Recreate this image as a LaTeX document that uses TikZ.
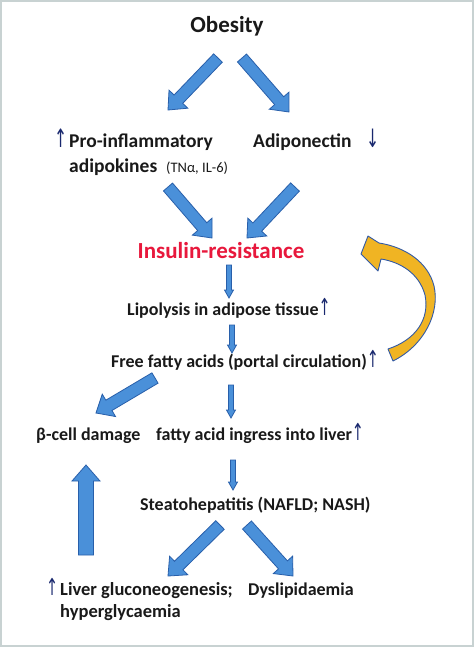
\documentclass[tikz,border=0pt]{standalone}
\usepackage{fontspec}
\setmainfont{Carlito}
\newfontfamily\arrowfont{DejaVu Sans}
\usetikzlibrary{calc}
\definecolor{bfill}{RGB}{74,144,217}
\definecolor{bline}{RGB}{40,95,170}
\definecolor{navy}{RGB}{25,40,110}
\definecolor{ired}{RGB}{232,24,60}
\definecolor{gold}{RGB}{240,180,35}
\definecolor{goldline}{RGB}{50,90,165}
\definecolor{txt}{RGB}{25,25,25}
\definecolor{framec}{RGB}{200,210,210}
\newcommand\uparr{{\color{navy}\arrowfont\mdseries\scalebox{0.8}[1.3]{↑}}}
\newcommand\dnarr{{\color{navy}\arrowfont\mdseries\scalebox{0.8}[1.3]{↓}}}
\newcommand\blockarrow[5]{%
  \coordinate (bb) at ($(#2)!#5!(#1)$);
  \filldraw[blk] ($(#1)!#3!90:(#2)$) -- ($(bb)!#3!90:(#2)$) -- ($(bb)!#4!90:(#2)$) -- (#2)
    -- ($(bb)!#4!-90:(#2)$) -- ($(bb)!#3!-90:(#2)$) -- ($(#1)!#3!-90:(#2)$) -- cycle;}
\tikzset{
  blk/.style={fill=bfill, draw=bline, line width=0.8pt, line join=miter},
  lbl/.style={inner sep=0pt, anchor=base west, text=txt, font=\fontsize{18}{20}\selectfont\bfseries},
  lblb/.style={lbl, font=\fontsize{19.5}{22}\selectfont\bfseries},
}
\begin{document}
\begin{tikzpicture}[x=1pt,y=1pt]
\useasboundingbox (0,0) rectangle (474,-647);
\fill[white] (0,0) rectangle (474,-647);
\draw[framec, line width=1.6pt] (0.8,-0.8) rectangle (473.2,-646.2);

% texts
\node[lbl, anchor=base, font=\fontsize{23}{26}\selectfont\bfseries] (obesity) at (227,-33) {Obesity};
\node[lblb, anchor=base east] (upa) at (67.5,-148) {\uparr};
\node[lblb] (proinf) at (69,-148) {Pro-inflammatory};
\node[lblb] (adipok) at (69,-172) {adipokines};
\node[lbl, font=\fontsize{14.5}{16}\selectfont] (tnf) at (166,-172) {(TNα, IL-6)};
\node[lblb] (adipon) at (253,-148) {Adiponectin};
\node[lblb] (dna) at (366,-148) {\dnarr};
\node[lbl, anchor=base, text=ired, font=\fontsize{23}{26}\selectfont\bfseries] (insulin) at (221,-258) {Insulin-resistance};
\node[lbl] (lipo) at (127,-315) {Lipolysis in adipose tissue\uparr};
\node[lbl] (ffa) at (111,-367) {Free fatty acids (portal circulation)\uparr};
\node[lbl] (beta) at (36,-440) {β-cell damage};
\node[lbl] (ingress) at (156,-440) {fatty acid ingress into liver\uparr};
\node[lbl] (steato) at (140,-510) {Steatohepatitis (NAFLD; NASH)};
\node[lbl, anchor=base east] (upb) at (58.5,-595) {\uparr};
\node[lbl, font=\fontsize{18.5}{20}\selectfont\bfseries] (liver) at (60,-595) {Liver gluconeogenesis;};
\node[lbl, font=\fontsize{18.5}{20}\selectfont\bfseries] (hyper) at (60,-617) {hyperglycaemia};
\node[lbl] (dys) at (248,-595) {Dyslipidaemia};

% arrow end points
\coordinate (a1t) at (218,-58);  \coordinate (a1h) at (168,-110);
\coordinate (a2t) at (242,-58);  \coordinate (a2h) at (289,-112);
\coordinate (a3t) at (168,-187); \coordinate (a3h) at (212,-238);
\coordinate (a4t) at (295,-187); \coordinate (a4h) at (247,-238);
\coordinate (a5t) at (229,-265); \coordinate (a5h) at (229,-298);
\coordinate (a6t) at (232,-325); \coordinate (a6h) at (232,-353);
\coordinate (a7t) at (155,-378); \coordinate (a7h) at (96,-413);
\coordinate (a8t) at (231,-385); \coordinate (a8h) at (231,-418);
\coordinate (a9t) at (233,-460); \coordinate (a9h) at (233,-490);
\coordinate (a10t) at (86,-555); \coordinate (a10h) at (86,-465);
\coordinate (a11t) at (220,-525); \coordinate (a11h) at (168,-576);
\coordinate (a12t) at (247,-525); \coordinate (a12h) at (293,-576);

\blockarrow{a1t}{a1h}{6pt}{13pt}{15pt}
\blockarrow{a2t}{a2h}{6pt}{13pt}{15pt}
\blockarrow{a3t}{a3h}{6pt}{13pt}{15pt}
\blockarrow{a4t}{a4h}{6pt}{13pt}{15pt}
\blockarrow{a5t}{a5h}{2.5pt}{4.5pt}{8pt}
\blockarrow{a6t}{a6h}{2.5pt}{4.5pt}{8pt}
\blockarrow{a7t}{a7h}{6pt}{13pt}{15pt}
\blockarrow{a8t}{a8h}{2.5pt}{4.5pt}{8pt}
\blockarrow{a9t}{a9h}{2.5pt}{4.5pt}{8pt}
\blockarrow{a10t}{a10h}{7.5pt}{14pt}{16pt}
\blockarrow{a11t}{a11h}{6pt}{13pt}{15pt}
\blockarrow{a12t}{a12h}{6pt}{13pt}{15pt}

% curved feedback arrow
\filldraw[fill=gold, draw=goldline, line width=0.9pt, line join=round]
  (393,-361) .. controls (425,-345) and (440,-312) .. (434,-286)
  .. controls (428,-262) and (405,-247) .. (379,-243)
  -- (368,-236) -- (361,-254) -- (378,-271) -- (381,-259)
  .. controls (400,-262) and (419,-273) .. (425,-295)
  .. controls (430,-320) and (415,-340) .. (388,-349) -- cycle;
\end{tikzpicture}
\end{document}
